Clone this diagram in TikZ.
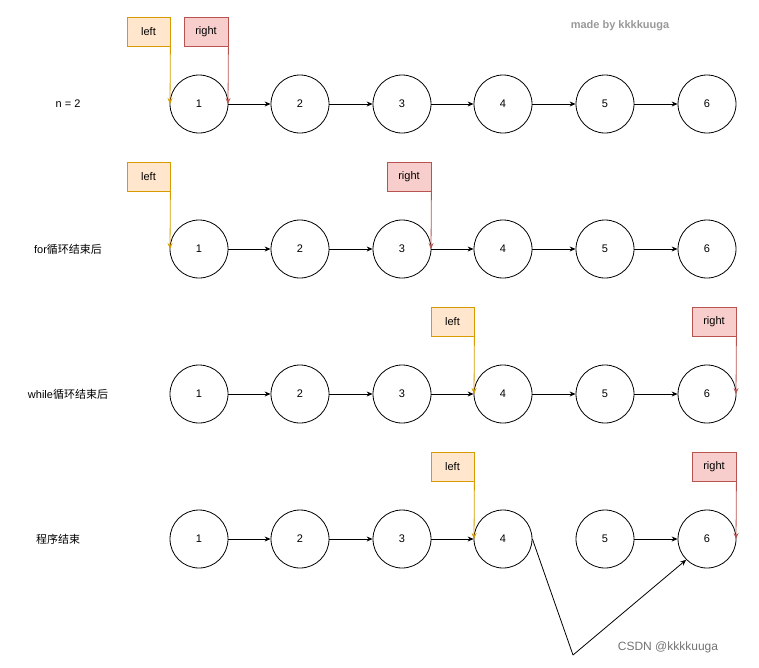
\documentclass[tikz,border=0pt]{standalone}
\usepackage{fontspec}
\setmainfont{Liberation Sans}
\newfontfamily\cjk{Noto Sans CJK SC}
\usetikzlibrary{arrows.meta}
\definecolor{lfill}{HTML}{FFE6CC}\definecolor{ldraw}{HTML}{D79B00}
\definecolor{rfill}{HTML}{F8CECC}\definecolor{rdraw}{HTML}{B85450}
\begin{document}
\begin{tikzpicture}[x=1pt,y=-1pt,font=\fontsize{11}{13}\selectfont,
 c/.style={circle,draw,thick,minimum size=58pt,inner sep=0pt},
 a/.style={-{Stealth[length=6pt,width=5pt]},thick},
 lb/.style={draw=ldraw,fill=lfill,thick,minimum width=43pt,minimum height=29pt,inner sep=0pt},
 rb/.style={draw=rdraw,fill=rfill,thick,minimum width=44pt,minimum height=29pt,inner sep=0pt},
 la/.style={-{Stealth[length=6pt,width=5pt]},draw=ldraw,thick},
 ra/.style={-{Stealth[length=6pt,width=5pt]},draw=rdraw,thick}]
\useasboundingbox (0,0) rectangle (759,667);
\foreach \r/\y in {1/104,2/249,3/394,4/539}{
 \foreach \i/\x in {1/199,2/300,3/402,4/503,5/605,6/707}{
  \node[c] (n\r\i) at (\x,\y) {\i};}
 \foreach \i/\j in {1/2,2/3,3/4}{\draw[a] (n\r\i) -- (n\r\j);}
}
\foreach \r in {1,2,3}{\draw[a] (n\r4) -- (n\r5); \draw[a] (n\r5) -- (n\r6);}
\draw[a] (n45) -- (n46);
\coordinate (v) at (573,655);
\draw[thick] (n44.east) -- (v);
\draw[a] (v) -- (n46.225);
\node at (68,104) {n = 2};
\node at (68,249) {for{\cjk 循环结束后}};
\node at (68,394) {while{\cjk 循环结束后}};
\node at (58,539) {\cjk 程序结束};
% row1
\node[lb] (l1) at (148.5,32) {left};
\node[rb] (r1) at (206,32) {right};
\coordinate (l1e) at (170,104); \coordinate (r1e) at (228,104);
\draw[la] (l1.east|-l1.south) ++(0,0) -- (l1e);
\draw[ra] (r1.east|-r1.south) -- (r1e);
% row2
\node[lb] (l2) at (148.5,177) {left};
\node[rb] (r2) at (409,177) {right};
\coordinate (l2e) at (170,249); \coordinate (r2e) at (431,249);
\draw[la] (l2.east|-l2.south) -- (l2e);
\draw[ra] (r2.east|-r2.south) -- (r2e);
% row3
\node[lb] (l3) at (452.5,322) {left};
\node[rb] (r3) at (714,322) {right};
\coordinate (l3e) at (474,394); \coordinate (r3e) at (736,394);
\draw[la] (l3.east|-l3.south) -- (l3e);
\draw[ra] (r3.east|-r3.south) -- (r3e);
% row4
\node[lb] (l4) at (452.5,467) {left};
\node[rb] (r4) at (714,467) {right};
\coordinate (l4e) at (474,539); \coordinate (r4e) at (736,539);
\draw[la] (l4.east|-l4.south) -- (l4e);
\draw[ra] (r4.east|-r4.south) -- (r4e);
\node[text=black!40,font=\bfseries\fontsize{11}{13}\selectfont] (wm) at (620,26) {made by kkkkuuga};
\node[text=black!55,font=\fontsize{12}{14}\selectfont] (cs) at (668,647) {CSDN @kkkkuuga};
\end{tikzpicture}
\end{document}
